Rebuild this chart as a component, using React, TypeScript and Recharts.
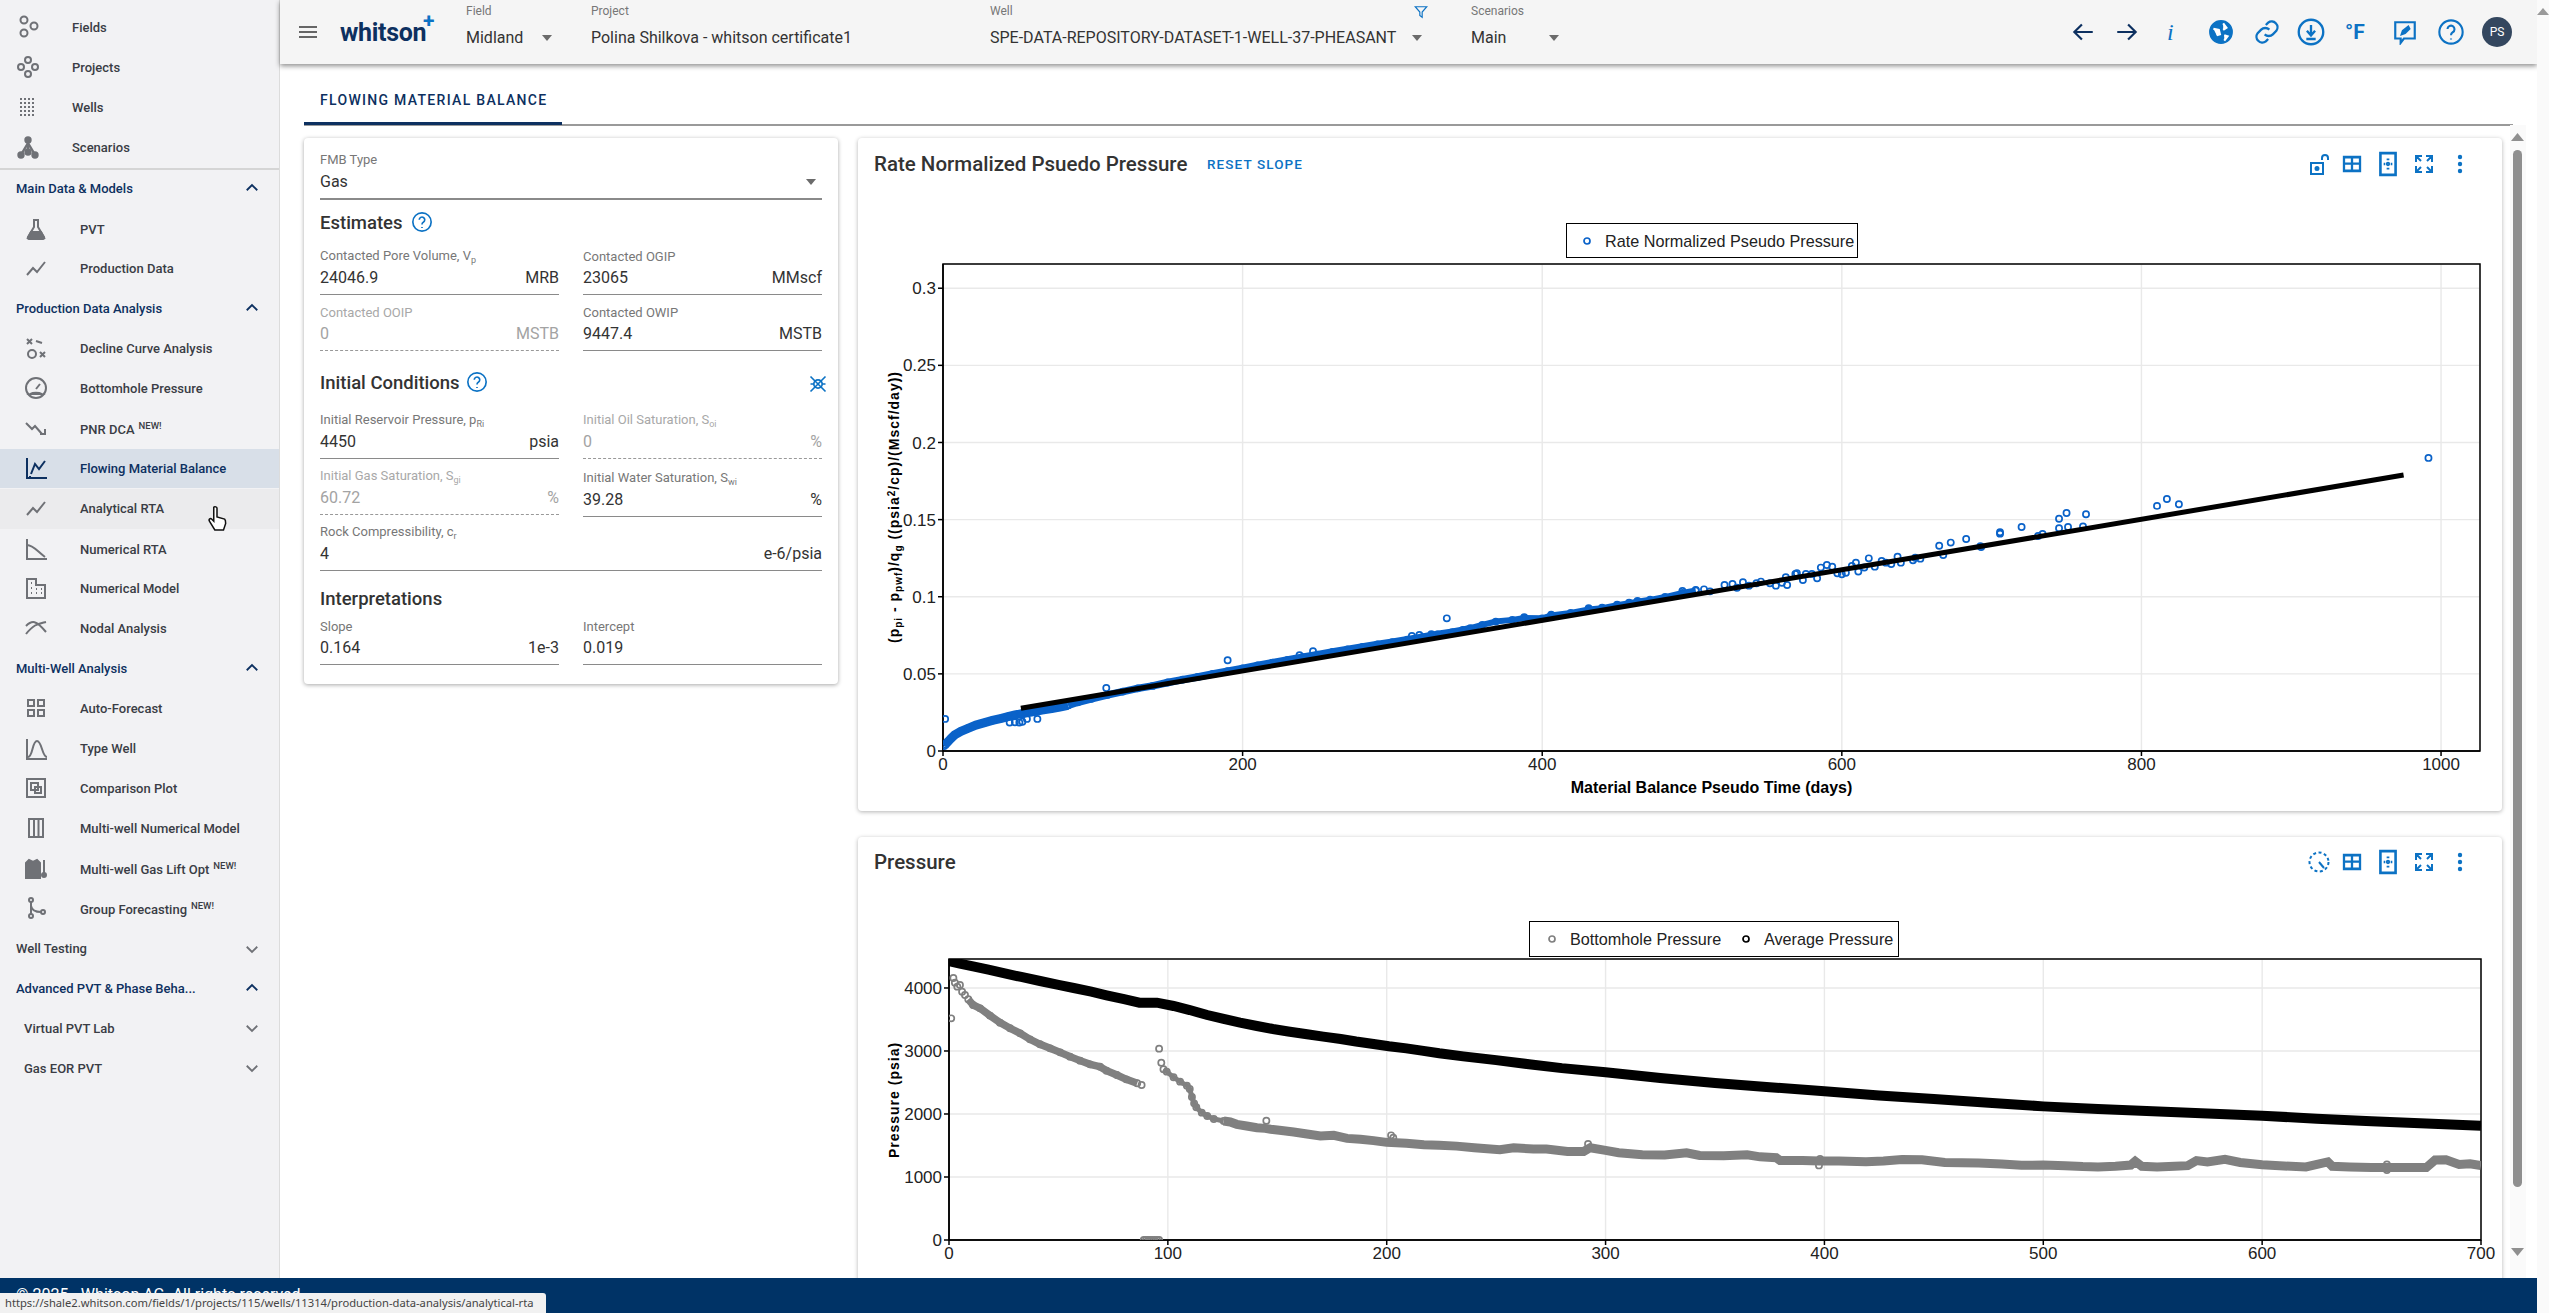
import React from 'react';
import { ScatterChart, Scatter, XAxis, YAxis, CartesianGrid, ReferenceArea } from 'recharts';

// ---------- chart data ----------
const rateSeriesName = 'Rate Normalized Pseudo Pressure';
const rateBandEarly: number[][] = [[0.8,.0032],[1.5,.0042],[3.3,.006],[5.5,.0083],[7.8,.0104],[12,.0128],[16.7,.0147],[22,.0168],[27.8,.0184],[33,.0198],[39,.0212],[44,.0225],[48,.0234],[52,.0241],[56,.0248],[61,.0255],[66,.0265],[72.5,.0275],[78,.0285],[83.5,.0296]];
const rateBandMid: number[][] = [[83.5,.0296],[90,.0316],[99,.0338],[110,.0364],[120,.0385],[130,.0406],[140,.0422],[150,.0444],[160,.0463],[170,.048],[180,.0499],[190,.0517],[200,.0535],[210,.0555],[220,.0573],[230,.059],[240,.0608],[250,.0625],[260,.0642],[270,.0658],[280,.0675],[290,.069],[300,.0705],[310,.0722],[320,.0738],[330,.0755],[340,.077],[350,.0788]];
const rateBandLate: number[][] = [[347,.0785],[352,.0796],[360,.0817],[369,.0839],[380,.085],[388,.0862],[400,.086],[406,.0878],[419,.0895],[431,.0918],[440,.0925],[450,.0945],[458,.0958],[463.6,.0968],[472,.098],[482,.0998],[493.6,.1025],[502.5,.104]];
const rateScatter: number[][] = [[1.4,.0208],[44.5,.0184],[48,.0186],[51,.0184],[53,.019],[56,.0208],[63,.0208],[109,.0408],[190,.0588],[238,.0621],[247,.0647],[313,.0746],[318,.0752],[326,.0757],[336.3,.086],[388,.0867],[406,.0884],[431,.0925],[440,.0929],[450,.0949],[458,.0962],[463.6,.0973],[493.6,.1037],[502.5,.1044],[508,.1048],[512,.1035],[521.7,.1076],[527,.1083],[530,.1058],[534,.1094],[538,.1072],[543,.1087],[546,.1098],[552,.1087],[556,.1072],[560,.1091],[562.6,.1126],[563.5,.1076],[569,.1148],[570,.1152],[574,.1108],[576,.1148],[580,.1148],[583.5,.112],[586,.1189],[590,.1206],[593.6,.1195],[597,.1152],[600,.1146],[602.7,.1156],[606.7,.12],[609.4,.1221],[611,.1163],[615,.119],[618,.1249],[622,.1195],[626.6,.1232],[629.4,.1221],[633,.1212],[637.2,.126],[639.4,.1221],[647.5,.1236],[649,.1253],[652.4,.1247],[665,.1331],[667.7,.1271],[672.7,.1351],[683,.1374],[692.5,.1327],[693,.1322],[705.6,.1418],[705.6,.1409],[720,.1452],[731,.1394],[734,.1407],[745,.1506],[745,.1444],[750,.1543],[751,.1452],[761,.1455],[763,.1535],[810.4,.1589],[817,.1634],[825,.16],[991.6,.19]];
const rateFit: number[][] = [[52,.0277],[975,.1789]];
const rateXTicks = [0,200,400,600,800,1000];
const rateYTicks = [0,.05,.1,.15,.2,.25,.3];

const bhpName = 'Bottomhole Pressure';
const avgName = 'Average Pressure';
const bhpEarly: number[][] = [[1,3518],[2,4158],[2.7,4085],[3.8,4021],[5,4048],[6,3942],[7.3,3889],[8.8,3820],[11,3730],[14.2,3677],[18.75,3561],[23.3,3450],[27.9,3360],[32.5,3280],[37,3185],[41.6,3106],[46.2,3042],[50.8,2978],[55.3,2910],[59.9,2847],[64.5,2788],[69,2751],[72,2688],[76.7,2619],[81,2550],[86,2487],[88,2460]];
const bhpEarlyLine: number[][] = [[8.8,3820],[11,3730],[14.2,3677],[18.75,3561],[23.3,3450],[27.9,3360],[32.5,3280],[37,3185],[41.6,3106],[46.2,3042],[50.8,2978],[55.3,2910],[59.9,2847],[64.5,2788],[69,2751],[72,2688],[76.7,2619],[81,2550],[86,2487]];
const bhpZero: number[][] = [[89,0],[90,0],[91,0],[92,0],[93,0],[94,0],[95,0],[96,0]];
const bhpSpikes: number[][] = [[96,3037],[97,2815],[145,1894],[202,1661],[203,1624],[292,1523],[398,1285],[397.5,1184],[657,1200],[657,1110]];
const bhpBend: number[][] = [[98,2709],[99.5,2672],[102.6,2582],[105.6,2513],[108.7,2450],[110,2397],[111,2270],[112,2169],[113,2106],[115.5,2021],[118,1968],[121,1921],[125.5,1889]];
const bhpLate: number[][] = [[125.5,1889],[128.5,1873],[131.5,1836],[136,1810],[140.7,1783],[144.5,1772],[147,1757],[151,1741],[157.5,1714],[163.6,1682],[169.7,1650],[175.8,1661],[181.9,1613],[188,1598],[194,1577],[200,1550],[209,1534],[217,1513],[224,1503],[232,1490],[240,1465],[251.7,1433],[258,1465],[267,1444],[273,1445],[282.6,1406],[290,1406],[293,1465],[300,1422],[306,1385],[316.8,1354],[327,1350],[337,1385],[343,1343],[354,1338],[364.7,1354],[370.6,1320],[378,1305],[379.7,1263],[390,1263],[397.8,1254],[406.7,1254],[419,1243],[427,1255],[435.5,1279],[444.6,1275],[455,1231],[470.5,1222],[481,1206],[490,1185],[500,1190],[510,1180],[518,1165],[525,1160],[533,1170],[540,1190],[542,1250],[545,1170],[552,1160],[560,1170],[566,1180],[570,1260],[575,1240],[583,1280],[590,1230],[600,1195],[610,1175],[620,1160],[630,1240],[632,1170],[640,1160],[650,1150],[660,1150],[668,1150],[675,1150],[679,1270],[684,1275],[690,1200],[695,1210],[700,1180]];
const avgPressure: number[][] = [[0,4428],[5,4385],[11,4343],[18,4290],[26,4227],[33,4175],[41.6,4111],[50,4050],[57,4000],[65,3942],[72,3884],[80,3822],[87,3767],[95,3767],[102.6,3714],[110,3650],[118,3571],[125.5,3508],[133,3450],[140.7,3397],[148,3349],[155,3310],[163.6,3265],[171,3228],[179,3190],[186,3150],[194,3111],[201,3075],[209,3042],[216,3005],[224,2963],[235,2915],[250,2855],[265,2790],[280,2728],[300,2661],[325,2570],[350,2492],[375,2425],[400,2360],[425,2295],[450,2238],[475,2178],[500,2121],[525,2080],[550,2042],[575,2008],[600,1973],[625,1925],[650,1883],[675,1850],[700,1814]];
const pressureXTicks = [0,100,200,300,400,500,600,700];
const pressureYTicks = [0,1000,2000,3000,4000];

const toPts = (rows: number[][]) => rows.map(([x, y]) => ({ x, y }));

// ---------- page text ----------
const topNav = [['Fields',27,'fields'],['Projects',67,'projects'],['Wells',107,'wells'],['Scenarios',147,'scen']];
const navGroups = [
  ['Main Data & Models',188,true,16],['Production Data Analysis',308,true,16],['Multi-Well Analysis',668,true,16],
  ['Well Testing',948.5,false,16],['Advanced PVT & Phase Beha...',988,true,16],['Virtual PVT Lab',1028,false,24],['Gas EOR PVT',1068,false,24],
];
const navItems = [
  ['PVT',229,'flask'],['Production Data',268,'trend'],['Decline Curve Analysis',348,'dca'],['Bottomhole Pressure',388,'gauge'],
  ['PNR DCA',428,'down',true],['Flowing Material Balance',468,'fmb'],['Analytical RTA',508,'trend'],['Numerical RTA',549,'nrta'],
  ['Numerical Model',588,'city'],['Nodal Analysis',628,'nodal'],['Auto-Forecast',708,'grid'],['Type Well',748.5,'type'],
  ['Comparison Plot',788,'comp'],['Multi-well Numerical Model',828,'cols'],['Multi-well Gas Lift Opt',868,'lift',true],['Group Forecasting',908,'group',true],
];
const BLUE = '#0a62c9';
const ACT = '#0c72c4';
const NAVY = '#0d3060';
const GREY = '#6f7176';

function T({ x, y, s = 13, c = '#333', w = 400, right, f = 'Roboto', ls, children }: any) {
  const st: any = { position: 'absolute', top: y, transform: 'translateY(-50%)', fontSize: s, color: c, fontWeight: w, fontFamily: f, whiteSpace: 'nowrap', lineHeight: 1.2, letterSpacing: ls };
  if (right !== undefined) st.right = 2549 - right; else st.left = x;
  return <div style={st}>{children}</div>;
}
function Box({ x, y, w, h, bg, style }: any) {
  return <div style={{ position: 'absolute', left: x, top: y, width: w, height: h, background: bg, ...style }} />;
}
function Sv({ cx, cy, size = 24, vb = 24, children, stroke = GREY, sw = 2, fill = 'none' }: any) {
  return (
    <svg style={{ position: 'absolute', left: cx - size / 2, top: cy - size / 2 }} width={size} height={size} viewBox={`0 0 ${vb} ${vb}`} fill={fill} stroke={stroke} strokeWidth={sw}>
      {children}
    </svg>
  );
}
function NavIcon({ kind, cx, cy, color = GREY }: any) {
  const p: any = { cx, cy, stroke: color };
  switch (kind) {
    case 'fields': return <Sv {...p}><circle cx="8" cy="5" r="3.5"/><circle cx="18" cy="11" r="3.5"/><circle cx="8" cy="18" r="3.5"/></Sv>;
    case 'projects': return <Sv {...p}><circle cx="12" cy="5" r="3"/><circle cx="5" cy="12" r="3"/><circle cx="19" cy="12" r="3"/><circle cx="12" cy="19" r="3"/></Sv>;
    case 'wells': return <Sv {...p} sw={2.2} stroke="none"><path d="M4 4h16M4 8h16M4 12h16M4 16h16M4 20h16" stroke={color} strokeWidth="2" strokeDasharray="2 2"/></Sv>;
    case 'scen': return <Sv {...p} sw={2.4}><path d="M12 6v8M12 8l-6 10M12 8l6 10"/><circle cx="12" cy="5" r="2.5" fill={color}/><circle cx="5" cy="20" r="2.5" fill={color}/><circle cx="12" cy="17" r="2.5" fill={color}/><circle cx="19" cy="20" r="2.5" fill={color}/></Sv>;
    case 'flask': return <Sv {...p}><path d="M9 3h6M10 3v7L4 20c-.5 1 0 2 1 2h14c1 0 1.500-1 1-2L14 10V3"/><path d="M7 15h10l3 6H4z" fill={color}/></Sv>;
    case 'trend': return <Sv {...p}><path d="M3 19l6-7 4 4 8-10"/></Sv>;
    case 'dca': return <Sv {...p}><path d="M3 3l5 5M8 3l-5 5M16 16l5 5M21 16l-5 5M12 5l6 2"/><circle cx="8" cy="18" r="4"/></Sv>;
    case 'gauge': return <Sv {...p}><circle cx="12" cy="12" r="10"/><path d="M12 13l4-5"/><path d="M6 18a8 4 0 0 1 12 0z" fill={color}/></Sv>;
    case 'down': return <Sv {...p}><path d="M2 7l6 6 3-3 7 8M16 18h5v-5"/></Sv>;
    case 'fmb': return <Sv {...p}><path d="M3 2v20h20M7 18l4-10 4 5 6-8M3 18h0M6 22v-2"/></Sv>;
    case 'nrta': return <Sv {...p}><path d="M3 2v20h20M3 8c6 0 10 6 18 12"/></Sv>;
    case 'city': return <Sv {...p} stroke={color} sw={2}><path d="M3 22V3h9v6h9v13z"/><path d="M7 7h1M7 12h1M7 17h1M12 13h1M12 17h1M17 13h1M17 17h1" /></Sv>;
    case 'nodal': return <Sv {...p}><path d="M2 10c6-6 10-6 20 6M2 18c8-10 12-10 20-12"/></Sv>;
    case 'grid': return <Sv {...p}><path d="M4 4h6v6H4zM14 4h6v6h-6zM4 14h6v6H4zM14 14h6v6h-6z"/></Sv>;
    case 'type': return <Sv {...p}><path d="M3 2v20h20M4 20c5 0 4-16 9-16s5 16 10 16"/></Sv>;
    case 'comp': return <Sv {...p}><path d="M3 3h18v18H3zM7 7h7v7H7zM11 11h6v6h-6z"/></Sv>;
    case 'cols': return <Sv {...p}><path d="M5 3h14v18H5zM10 3v18M14.500 3v18"/></Sv>;
    case 'lift': return <Sv {...p} fill={color}><path d="M2 7l3-3 4 2 4-2 3 3v15H2z"/><path d="M20 4v14" fill="none"/><circle cx="20" cy="19" r="2"/></Sv>;
    case 'group': return <Sv {...p}><circle cx="7" cy="4" r="2"/><circle cx="7" cy="20" r="2"/><circle cx="19" cy="16" r="2"/><path d="M7 6v12M7 10c1 5 6 6 10 6"/></Sv>;
  }
  return null;
}
function Chevron({ x, y, up, c }: any) {
  return <Sv cx={x} cy={y} size={18} stroke={c} sw={2.4}><path d={up ? 'M5 15l7-7 7 7' : 'M5 9l7 7 7-7'} /></Sv>;
}
function Caret({ x, y, c = '#6b6b6b' }: any) {
  return <svg style={{ position: 'absolute', left: x - 6, top: y - 3 }} width="12" height="6"><path d="M1 0h10L6 6z" fill={c} /></svg>;
}
function Field({ x, w, ly, vy, uy, label, sub, value, unit, dim }: any) {
  const tc = dim ? '#a3a3a3' : '#333';
  return (
    <>
      <T x={x} y={ly} s={13} c={dim ? '#a8a8a8' : '#777'}>{label}{sub ? <sub style={{ fontSize: 9 }}>{sub}</sub> : null}</T>
      <T x={x} y={vy + 1} s={16} c={tc}>{value}</T>
      <T right={x + w} y={vy + 1} s={16} c={tc}>{unit}</T>
      <div style={{ position: 'absolute', left: x, top: uy, width: w, borderTop: dim ? '1px dashed #999' : '1.5px solid #8a8a8a' }} />
    </>
  );
}
function Help({ cx, cy, size = 22 }: any) {
  return <Sv cx={cx} cy={cy} size={size} stroke={ACT} sw={1.8}><circle cx="12" cy="12" r="10"/><path d="M9 9.500a3 3 0 1 1 4.500 2.700c-1 .7-1.500 1.200-1.500 2.600M12 17.500v1"/></Sv>;
}
function ToolIcons({ y, first }: any) {
  const xs = [2319, 2352, 2388, 2424, 2460];
  return (
    <>
      {first === 'lock'
        ? <Sv cx={xs[0]} cy={y} stroke={ACT}><path d="M4 11h12v11H4z"/><path d="M15 8V6a3 3 0 0 1 6 0v2"/><circle cx="10" cy="16.500" r="1.500" fill={ACT}/></Sv>
        : <Sv cx={xs[0]} cy={y} stroke={ACT}><circle cx="12" cy="12" r="9.500" strokeDasharray="3 2.500"/><path d="M12 12l5 6" /></Sv>}
      <Sv cx={xs[1]} cy={y} size={22} stroke="none"><path d="M2 3h20v18H2z" fill={ACT}/><path d="M4.500 6h15v12h-15z" fill="#fff"/><path d="M3 11.500h18M12 5v14" stroke={ACT} strokeWidth="2.500"/></Sv>
      <Sv cx={xs[2]} cy={y} size={26} stroke={ACT} sw={2.4}><path d="M5 2h14v20H5z"/><path d="M12 7v1.500M12 15.500V17M8 12h1.500M14.500 12H16" strokeWidth="2.500"/><circle cx="12" cy="12" r=".8" fill={ACT}/></Sv>
      <Sv cx={xs[3]} cy={y} stroke={ACT}><path d="M4 10V4h6M20 10V4h-6M4 14v6h6M20 14v6h-6M5 5l4 4M19 5l-4 4M5 19l4-4M19 19l-4-4"/></Sv>
      <Sv cx={xs[4]} cy={y} stroke="none"><circle cx="12" cy="5" r="2.200" fill={ACT}/><circle cx="12" cy="12" r="2.200" fill={ACT}/><circle cx="12" cy="19" r="2.200" fill={ACT}/></Sv>
    </>
  );
}
const ring = (color: string, r = 3.1, sw = 1.7) => (p: any) => <circle cx={p.cx} cy={p.cy} r={r} fill="none" stroke={color} strokeWidth={sw} />;
const noMark = () => <g />;
const tickStyle = { fontFamily: 'Liberation Sans', fontSize: 17, fill: '#222' };
const axisLine = { stroke: '#000', strokeWidth: 1.5 };

function RateChart() {
  return (
    <div style={{ position: 'absolute', left: 860, top: 220 }}>
      <ScatterChart width={1640} height={620} margin={{ top: 44, right: 20, bottom: 29, left: 0 }}>
        <CartesianGrid stroke="#e9e9e9" strokeWidth={1.4} />
        <XAxis type="number" dataKey="x" domain={[0, 1026]} ticks={rateXTicks} allowDataOverflow height={60} tick={tickStyle} tickLine={axisLine} axisLine={axisLine} tickSize={5} interval={0}
          label={{ value: 'Material Balance Pseudo Time (days)', position: 'insideBottom', offset: 18, style: { fontFamily: 'Liberation Sans', fontSize: 16, fontWeight: 700, fill: '#000' } }} />
        <YAxis type="number" dataKey="y" domain={[0, 0.3157]} ticks={rateYTicks} allowDataOverflow width={83} tick={tickStyle} tickLine={axisLine} axisLine={axisLine} tickSize={5} interval={0}
          label={{ content: () => (
            <text transform="translate(39 287) rotate(-90)" textAnchor="middle" fontFamily="Liberation Sans" fontSize="14" fontWeight="700" letterSpacing="1" fill="#000">
              (p<tspan fontSize="10" dy="3">pi</tspan><tspan dy="-3"> - p</tspan><tspan fontSize="10" dy="3">pwf</tspan><tspan dy="-3">)/q</tspan><tspan fontSize="10" dy="3">g</tspan><tspan dy="-3">  ((psia</tspan><tspan fontSize="10" dy="-4">2</tspan><tspan dy="4">/cp)/(Mscf/day))</tspan>
            </text>
          ) }} />
        <ReferenceArea x1={0} x2={1026} y1={0} y2={0.3157} fill="none" stroke="#000" strokeWidth={1.5} ifOverflow="visible" />
        <Scatter name={rateSeriesName} data={toPts(rateBandEarly)} shape={ring(BLUE)} line={{ stroke: BLUE, strokeWidth: 9 }} isAnimationActive={false} />
        <Scatter name={rateSeriesName} data={toPts(rateBandMid)} shape={ring(BLUE)} line={{ stroke: BLUE, strokeWidth: 7.500 }} isAnimationActive={false} />
        <Scatter name={rateSeriesName} data={toPts(rateBandLate)} shape={ring(BLUE)} line={{ stroke: BLUE, strokeWidth: 6 }} isAnimationActive={false} />
        <Scatter name={rateSeriesName} data={toPts(rateScatter)} shape={ring(BLUE)} isAnimationActive={false} />
        <Scatter name="Fit" data={toPts(rateFit)} shape={noMark} line={{ stroke: '#000', strokeWidth: 5 }} isAnimationActive={false} />
      </ScatterChart>
    </div>
  );
}
function PressureChart() {
  const GR = '#808080';
  return (
    <div style={{ position: 'absolute', left: 860, top: 920, width: 1640, height: 340, overflow: 'hidden' }}>
      <ScatterChart width={1640} height={400} margin={{ top: 39, right: 19, bottom: 29, left: 0 }}>
        <CartesianGrid stroke="#e9e9e9" strokeWidth={1.4} />
        <XAxis type="number" dataKey="x" domain={[0, 700]} ticks={pressureXTicks} allowDataOverflow height={51} tick={tickStyle} tickLine={axisLine} axisLine={axisLine} tickSize={5} interval={0} />
        <YAxis type="number" dataKey="y" domain={[0, 4460]} ticks={pressureYTicks} allowDataOverflow width={89} tick={tickStyle} tickLine={axisLine} axisLine={axisLine} tickSize={5} interval={0}
          label={{ content: () => (
            <text transform="translate(39 180) rotate(-90)" textAnchor="middle" fontFamily="Liberation Sans" fontSize="14" fontWeight="700" letterSpacing="1" fill="#000">Pressure (psia)</text>
          ) }} />
        <ReferenceArea x1={0} x2={700} y1={0} y2={4460} fill="none" stroke="#000" strokeWidth={1.5} ifOverflow="visible" />
        <Scatter name={bhpName} data={toPts(bhpEarly)} shape={ring(GR)} isAnimationActive={false} />
        <Scatter name={bhpName} data={toPts(bhpEarlyLine)} shape={noMark} line={{ stroke: GR, strokeWidth: 7.500 }} isAnimationActive={false} />
        <Scatter name={bhpName} data={toPts(bhpBend)} shape={ring(GR)} line={{ stroke: GR, strokeWidth: 5 }} isAnimationActive={false} />
        <Scatter name={bhpName} data={toPts(bhpLate)} shape={noMark} line={{ stroke: GR, strokeWidth: 9 }} isAnimationActive={false} />
        <Scatter name={bhpName} data={toPts(bhpSpikes)} shape={ring(GR)} isAnimationActive={false} />
        <Scatter name={bhpName} data={toPts(bhpZero)} shape={ring(GR)} isAnimationActive={false} />
        <Scatter name={avgName} data={toPts(avgPressure)} shape={noMark} line={{ stroke: '#000', strokeWidth: 10 }} isAnimationActive={false} />
      </ScatterChart>
    </div>
  );
}
function LegendBox({ x, y, w, h, items }: any) {
  return (
    <div style={{ position: 'absolute', left: x, top: y, width: w, height: h, border: '1.5px solid #000', boxSizing: 'border-box', background: '#fff' }}>
      {items.map(([name, color, rx, tx]: any) => (
        <React.Fragment key={name}>
          <svg style={{ position: 'absolute', left: rx - x - 6, top: h / 2 - 7 }} width="12" height="12"><circle cx="6" cy="6" r="3" fill="none" stroke={color} strokeWidth="1.7" /></svg>
          <span style={{ position: 'absolute', left: tx - x - 2, top: h / 2 - 11, lineHeight: '20px', fontFamily: 'Liberation Sans', fontSize: 16.200, whiteSpace: 'nowrap', color: '#222' }}>{name}</span>
        </React.Fragment>
      ))}
    </div>
  );
}

export default function App() {
  return (
    <div style={{ position: 'absolute', left: 0, top: 0, width: 2549, height: 1313, overflow: 'hidden', background: '#fff', fontFamily: 'Roboto' }}>
      {/* sidebar */}
      <Box x={0} y={0} w={280} h={1313} bg="#f2f2f4" style={{ borderRight: '1.5px solid #dcdcdc', boxSizing: 'border-box' }} />
      <Box x={0} y={168} w={279} h={1.5} bg="#d5d5d5" />
      <Box x={0} y={449} w={279} h={39} bg="#d8dfe8" />
      <Box x={0} y={489} w={279} h={40} bg="#ebebed" />
      {topNav.map(([t, y, k]: any) => (
        <React.Fragment key={t}>
          <NavIcon kind={k} cx={28} cy={y} />
          <T x={72} y={y + 0.5} s={13} w={500} c="#3a3d45">{t}</T>
        </React.Fragment>
      ))}
      {navGroups.map(([t, y, open, x]: any) => {
        const c = open && x === 16 ? NAVY : '#3a3d45';
        return (
          <React.Fragment key={t}>
            <T x={x} y={y + 0.5} s={13} w={500} c={c}>{t}</T>
            <Chevron x={252} y={y} up={open} c={open ? NAVY : GREY} />
          </React.Fragment>
        );
      })}
      {navItems.map(([t, y, k, isNew]: any) => {
        const act = t === 'Flowing Material Balance';
        return (
          <React.Fragment key={t}>
            <NavIcon kind={k} cx={36} cy={y} color={act ? NAVY : GREY} />
            <T x={80} y={y + 0.5} s={13} w={500} c={act ? NAVY : '#3a3d45'}>{t}{isNew ? <sup style={{ fontSize: 9.500, marginLeft: 4 }}>NEW!</sup> : null}</T>
          </React.Fragment>
        );
      })}
      {/* cursor */}
      <Sv cx={217} cy={518} size={26} stroke="#111" sw={1.4} fill="#fff"><path d="M9 2c1-1 3 0 3 1v8l7 2c1 1 1 2 1 4l-2 6H10l-5-8c-1-2 1-3 2-2l2 2z" /></Sv>

      {/* header */}
      <Box x={280} y={0} w={2257} h={64} bg="#f5f5f5" style={{ boxShadow: '0 2px 5px rgba(0,0,0,.45)' }} />
      <Box x={299} y={26} w={18} h={2.400} bg="#666" /><Box x={299} y={31} w={18} h={2.400} bg="#666" /><Box x={299} y={36} w={18} h={2.400} bg="#666" />
      <T x={340} y={33} s={25} w={700} c={NAVY} ls={-0.3}>whitson</T>
      <T x={423} y={22} s={21} w={700} c={ACT}>+</T>
      <T x={466} y={11} s={12} c="#777">Field</T>
      <T x={466} y={38} s={16} c="#333">Midland</T>
      <Caret x={547} y={38} />
      <T x={591} y={11} s={12} c="#777">Project</T>
      <T x={591} y={38} s={16} c="#333">Polina Shilkova - whitson certificate1</T>
      <T x={990} y={11} s={12} c="#777">Well</T>
      <T x={990} y={38} s={16} c="#333">SPE-DATA-REPOSITORY-DATASET-1-WELL-37-PHEASANT</T>
      <Caret x={1417} y={38} />
      <Sv cx={1421} cy={12} size={14} stroke={ACT}><path d="M2 3h20l-8 9v9l-4-3v-6z" /></Sv>
      <T x={1471} y={11} s={12} c="#777">Scenarios</T>
      <T x={1471} y={38} s={16} c="#333">Main</T>
      <Caret x={1554} y={38} />
      <Sv cx={2083} cy={32} size={26} stroke={NAVY}><path d="M21 12H4M11 5l-7 7 7 7" /></Sv>
      <Sv cx={2127} cy={32} size={26} stroke={NAVY}><path d="M3 12h17M13 5l7 7-7 7" /></Sv>
      <T x={2167} y={32} s={24} c={ACT} f="Liberation Serif"><i>i</i></T>
      <Sv cx={2221} cy={32} size={26} stroke={ACT}><circle cx="12" cy="12" r="10" fill={ACT} /><path d="M5 9l5 1 1 4-3 1M14 4l3 4-3 2M15 15l3 1-3 4" fill="#fff" stroke="#fff" sw={1} /></Sv>
      <Sv cx={2267} cy={32} size={28} stroke={ACT}><path d="M10 14a5 5 0 0 0 7 0l3-3a5 5 0 0 0-7-7l-2 2M14 10a5 5 0 0 0-7 0l-3 3a5 5 0 0 0 7 7l2-2" /></Sv>
      <Sv cx={2311} cy={32} size={28} stroke={ACT}><circle cx="12" cy="12" r="10.500" /><path d="M12 6v8M8.500 11l3.500 4 3.500-4M8 18h8" /></Sv>
      <T x={2345} y={33} s={21} w={700} c={ACT}>°F</T>
      <Sv cx={2405} cy={32} size={26} stroke={ACT}><path d="M3 3h18v15H11l-3 4v-4H3z" /><path d="M9 14l1-3 5-4 1 2-4 4z" fill={ACT} /></Sv>
      <Help cx={2451} cy={32} size={28} />
      <div style={{ position: 'absolute', left: 2482, top: 17, width: 30, height: 30, borderRadius: 15, background: '#34475f', color: '#fff', fontFamily: 'Roboto', fontSize: 12, textAlign: 'center', lineHeight: '30px' }}>PS</div>

      {/* tabs */}
      <T x={320} y={100} s={14} w={500} c={NAVY} ls={1.300}>FLOWING MATERIAL BALANCE</T>
      <Box x={304} y={124} w={2209} h={1.500} bg="#9a9a9a" />
      <Box x={304} y={122} w={258} h={3} bg={NAVY} />

      {/* left card */}
      <Box x={304} y={138} w={534} h={546} bg="#fff" style={{ borderRadius: 4, boxShadow: '0 1px 4px rgba(0,0,0,.35)' }} />
      <T x={320} y={160} s={13} c="#777">FMB Type</T>
      <T x={320} y={182} s={16} c="#333">Gas</T>
      <Caret x={811} y={182} />
      <Box x={320} y={198} w={502} h={1.500} bg="#8a8a8a" />
      <T x={320} y={223} s={18.500} w={500} c="#333">Estimates</T>
      <Help cx={422} cy={222} />
      <Field x={320} w={239} ly={257} vy={277} uy={294} label="Contacted Pore Volume, V" sub="p" value="24046.9" unit="MRB" />
      <Field x={583} w={239} ly={257} vy={277} uy={294} label="Contacted OGIP" value="23065" unit="MMscf" />
      <Field x={320} w={239} ly={313} vy={333} uy={350} label="Contacted OOIP" value="0" unit="MSTB" dim />
      <Field x={583} w={239} ly={313} vy={333} uy={350} label="Contacted OWIP" value="9447.4" unit="MSTB" />
      <T x={320} y={383} s={18.500} w={500} c="#333">Initial Conditions</T>
      <Help cx={477} cy={382} />
      <Sv cx={818} cy={384} size={20} stroke={ACT}><circle cx="12" cy="12" r="5"/><path d="M3 3l18 18M21 3L3 21M3 12h4M17 12h4"/></Sv>
      <Field x={320} w={239} ly={421} vy={441} uy={458} label="Initial Reservoir Pressure, p" sub="Ri" value="4450" unit="psia" />
      <Field x={583} w={239} ly={421} vy={441} uy={458} label="Initial Oil Saturation, S" sub="oi" value="0" unit="%" dim />
      <Field x={320} w={239} ly={477} vy={497} uy={514} label="Initial Gas Saturation, S" sub="gi" value="60.72" unit="%" dim />
      <Field x={583} w={239} ly={479} vy={499} uy={516} label="Initial Water Saturation, S" sub="wi" value="39.28" unit="%" />
      <Field x={320} w={502} ly={533} vy={553} uy={570} label="Rock Compressibility, c" sub="r" value="4" unit="e-6/psia" />
      <T x={320} y={599} s={18.500} w={500} c="#333">Interpretations</T>
      <Field x={320} w={239} ly={627} vy={647} uy={664} label="Slope" value="0.164" unit="1e-3" />
      <Field x={583} w={239} ly={627} vy={647} uy={664} label="Intercept" value="0.019" unit="" />

      {/* chart cards */}
      <Box x={858} y={138} w={1644} h={673} bg="#fff" style={{ borderRadius: 4, boxShadow: '0 1px 4px rgba(0,0,0,.3)' }} />
      <Box x={858} y={837} w={1644} h={480} bg="#fff" style={{ borderRadius: 4, boxShadow: '0 1px 4px rgba(0,0,0,.3)' }} />
      <T x={874} y={164} s={20.500} w={500} c="#333">Rate Normalized Psuedo Pressure</T>
      <T x={1207} y={164} s={13.500} w={500} c={ACT} ls={1.100}>RESET SLOPE</T>
      <ToolIcons y={164} first="lock" />
      <T x={874} y={862} s={20.500} w={500} c="#333">Pressure</T>
      <ToolIcons y={862} first="dash" />
      <RateChart />
      <LegendBox x={1566} y={223} w={292} h={35} items={[[rateSeriesName, BLUE, 1586, 1606]]} />
      <PressureChart />
      <LegendBox x={1529} y={921} w={370} h={36} items={[[bhpName, '#808080', 1551, 1571], [avgName, '#000', 1745, 1765]]} />

      {/* scrollbars */}
      <Box x={2510} y={125} w={16} h={1153} bg="#fafafa" />
      <Box x={2513} y={150} w={9} h={1037} bg="#8f8f8f" style={{ borderRadius: 5 }} />
      <svg style={{ position: 'absolute', left: 2511, top: 133 }} width="13" height="8"><path d="M0 8L6.500 0 13 8z" fill="#8f8f8f" /></svg>
      <svg style={{ position: 'absolute', left: 2511, top: 1248 }} width="13" height="8"><path d="M0 0L6.500 8 13 0z" fill="#8f8f8f" /></svg>
      <Box x={2537} y={0} w={12} h={1313} bg="#fafafa" />
      <svg style={{ position: 'absolute', left: 2537, top: 8 }} width="12" height="7"><path d="M0 7L6 0 12 7z" fill="#9a9a9a" /></svg>

      {/* footer */}
      <Box x={0} y={1278} w={2537} h={35} bg="#003366" />
      <T x={16} y={1295} s={16} c="#fff">© 2025 - Whitson AG. All rights reserved.</T>
      <Box x={0} y={1293} w={546} h={20} bg="#f1f1f1" style={{ borderTopRightRadius: 3 }} />
      <T x={5} y={1303} s={11.200} c="#444" f="Noto Sans">https://shale2.whitson.com/fields/1/projects/115/wells/11314/production-data-analysis/analytical-rta</T>
    </div>
  );
}
